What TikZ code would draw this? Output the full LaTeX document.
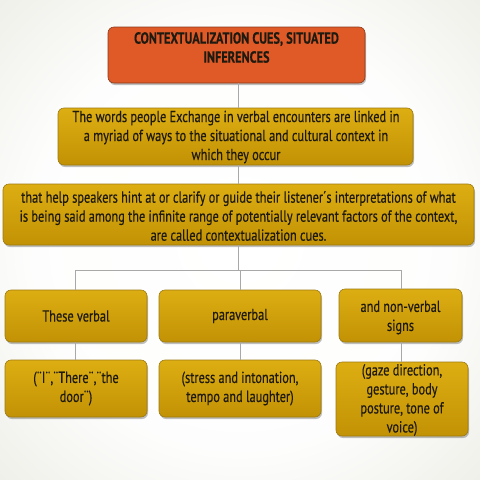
\documentclass[tikz,border=0pt]{standalone}
\usepackage{fontspec}
\setmainfont{PT Sans}[FakeStretch=0.77, FakeBold=0.4]
\usetikzlibrary{shadows}
\definecolor{bgout}{HTML}{C4C8AE}
\definecolor{goldtop}{HTML}{DDAE12}
\definecolor{goldbot}{HTML}{C29205}
\definecolor{goldedge}{HTML}{9C7A10}
\definecolor{orangefill}{HTML}{E05A28}
\definecolor{orangeedge}{HTML}{8A3A1A}
\definecolor{txt}{HTML}{1E1A10}
\definecolor{conn}{HTML}{A8A8A8}
\pgfdeclareradialshading{bgshade}{\pgfpoint{0bp}{0bp}}{color(0bp)=(white); color(22bp)=(white!97!bgout); color(45bp)=(white!55!bgout); color(70bp)=(bgout); color(80bp)=(bgout)}
\tikzset{
  goldbox/.style={draw=goldedge, line width=0.6pt, rounded corners=6pt,
    top color=goldtop, bottom color=goldbot, inner sep=0pt,
    drop shadow={shadow xshift=1pt, shadow yshift=-2pt, opacity=0.25, fill=black}},
  titlebox/.style={draw=orangeedge, line width=0.6pt, rounded corners=6pt,
    fill=orangefill, inner sep=0pt,
    drop shadow={shadow xshift=1pt, shadow yshift=-2pt, opacity=0.25, fill=black}},
  bodytext/.style={text=txt, align=center, inner sep=0pt,
    font=\fontsize{16}{19}\selectfont},
  titletext/.style={text=txt, align=center, inner sep=0pt,
    font=\bfseries\fontsize{16}{19}\selectfont},
  conn/.style={draw=conn, line width=0.7pt}
}
\begin{document}
\begin{tikzpicture}[x=1pt,y=-1pt]
\shade[shading=bgshade] (0,0) rectangle (480,480);
\useasboundingbox (0,0) rectangle (480,480);
% boxes
\node[titlebox, minimum width=257pt, minimum height=56pt] (title) at (236.5,55) {};
\node[goldbox, minimum width=355pt, minimum height=57pt] (b1) at (235.5,136.5) {};
\node[goldbox, minimum width=471pt, minimum height=61pt] (b2) at (238.5,214.5) {};
\node[goldbox, minimum width=142pt, minimum height=52pt] (ra) at (76,316) {};
\node[goldbox, minimum width=162pt, minimum height=52pt] (rb) at (240,316) {};
\node[goldbox, minimum width=123pt, minimum height=53pt] (rc) at (400.5,315.5) {};
\node[goldbox, minimum width=142pt, minimum height=57pt] (sa) at (76,388.5) {};
\node[goldbox, minimum width=162pt, minimum height=57pt] (sb) at (240,388.5) {};
\node[goldbox, minimum width=132pt, minimum height=74pt] (sc) at (402,399) {};
% connectors
\coordinate (hl) at (75,270);
\coordinate (hm) at (238,270);
\coordinate (hr) at (401,270);
\draw[conn] (title.south -| hm) -- (b1.north -| hm);
\draw[conn] (b1.south -| hm) -- (b2.north -| hm);
\draw[conn] (b2.south -| hm) -- (hm);
\draw[conn] (hl) -- (hr);
\draw[conn] (hl) -- (ra.north -| hl);
\draw[conn] (hm -| rb.north) -- (rb.north);
\draw[conn] (hr) -- (rc.north -| hr);
\draw[conn] (ra.south -| hl) -- (sa.north -| hl);
\draw[conn] (rb.south) -- (sb.north);
\draw[conn] (rc.south -| hr) -- (sc.north -| hr);
% texts
\node[titletext] (titlet) at (236.5,47.5) {CONTEXTUALIZATION CUES, SITUATED\\INFERENCES};
\node[bodytext] (b1t) at (236,137) {The words people Exchange in verbal encounters are linked in\\a myriad of ways to the situational and cultural context in\\which they occur};
\node[bodytext] (b2t) at (238.5,216) {that help speakers hint at or clarify or guide their listener´s interpretations of what\\is being said among the infinite range of potentially relevant factors of the context,\\are called contextualization cues.};
\node[bodytext] (rat) at (76,316) {These verbal};
\node[bodytext] (rbt) at (240,316) {paraverbal};
\node[bodytext] (rct) at (400.5,317.5) {and non-verbal\\signs};
\node[bodytext] (sat) at (76,388.5) {(¨I¨,¨There¨,¨the\\door¨)};
\node[bodytext] (sbt) at (240,388.5) {(stress and intonation,\\tempo and laughter)};
\node[bodytext] (sct) at (402,400) {(gaze direction,\\gesture, body\\posture, tone of\\voice)};
\end{tikzpicture}
\end{document}
